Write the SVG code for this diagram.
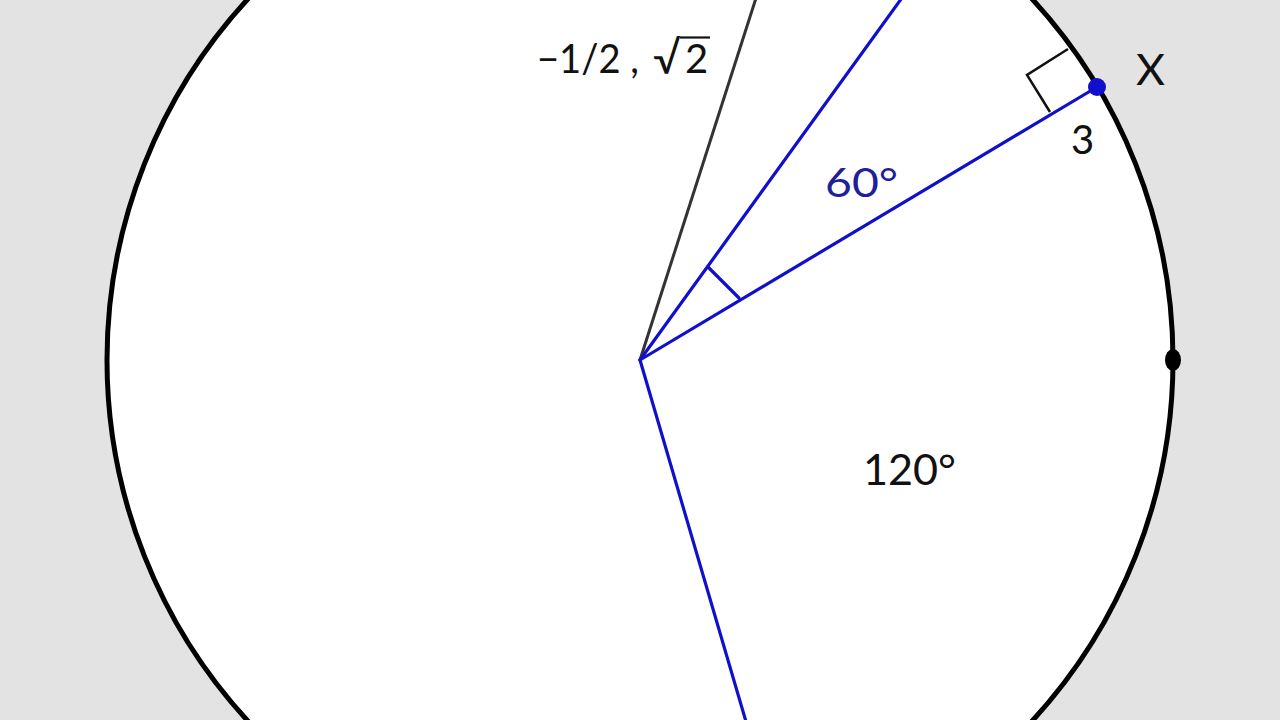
<svg xmlns="http://www.w3.org/2000/svg" width="1280" height="720" viewBox="0 0 1280 720">
<style>
.lbl{font-family:Lato,"Noto Sans","DejaVu Sans",sans-serif;fill:#111}
.blue{stroke:#1010cc;stroke-width:3.2;fill:none;stroke-linecap:round}
.blk{stroke:#111;stroke-width:2.5;fill:none}
</style>
<rect width="1280" height="720" fill="#e3e3e3"/>
<g id="circle">
<circle cx="640" cy="360" r="533" fill="#fff" stroke="#000" stroke-width="5"/>
</g>
<g id="connectors">
<line x1="640" y1="360" x2="757" y2="-5" stroke="#333" stroke-width="3"/>
<line class="blue" x1="640" y1="360" x2="904" y2="-5"/>
<line class="blue" x1="640" y1="360" x2="1097" y2="87"/>
<line class="blue" x1="640" y1="360" x2="747" y2="725"/>
<polyline class="blue" points="708,267 739,298"/>
<polyline class="blk" points="1068,49 1027,75 1050,112"/>
</g>
<g id="point-x">
<circle cx="1097" cy="87" r="9" fill="#1010cc"/>
<text class="lbl" x="1136" y="85" font-size="43" textLength="29" lengthAdjust="spacingAndGlyphs">X</text>
</g>
<g id="point-right">
<ellipse cx="1173" cy="360" rx="8" ry="11" fill="#000"/>
</g>
<g id="labels">
<text class="lbl" x="537" y="73" font-size="40" textLength="102" lengthAdjust="spacingAndGlyphs">−1/2 ,</text>
<text class="lbl" x="653" y="74" font-size="44">√</text>
<text class="lbl" x="685" y="73" font-size="40">2</text>
<line x1="680" y1="37.5" x2="710" y2="37.5" stroke="#111" stroke-width="2.2"/>
<text class="lbl" x="825" y="197" font-size="41" textLength="73" lengthAdjust="spacingAndGlyphs" style="fill:#1f1f99">60°</text>
<text class="lbl" x="1071" y="154" font-size="40">3</text>
<text class="lbl" x="863" y="485" font-size="42" textLength="93" lengthAdjust="spacingAndGlyphs">120°</text>
</g>
</svg>
